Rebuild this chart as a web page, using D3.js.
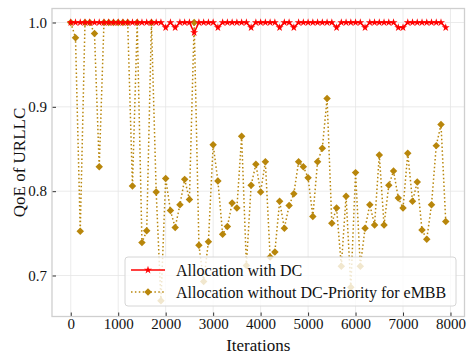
<!DOCTYPE html>
<html>
<head>
<meta charset="utf-8">
<script src="https://cdn.jsdelivr.net/npm/d3@7"></script>
<style>
  body { margin: 0; background: #fff; }
  svg text { font-family: "Liberation Serif", "Times New Roman", Times, "DejaVu Serif", serif !important; fill: #111; }
</style>
</head>
<body>
<svg id="chart" width="474" height="363" font-family="Liberation Serif"></svg>
<script>
var iterations = [0, 100, 200, 300, 400, 500, 600, 700, 800, 900,
  1000, 1100, 1200, 1300, 1400, 1500, 1600, 1700, 1800, 1900,
  2000, 2100, 2200, 2300, 2400, 2500, 2600, 2700, 2800, 2900,
  3000, 3100, 3200, 3300, 3400, 3500, 3600, 3700, 3800, 3900,
  4000, 4100, 4200, 4300, 4400, 4500, 4600, 4700, 4800, 4900,
  5000, 5100, 5200, 5300, 5400, 5500, 5600, 5700, 5800, 5900,
  6000, 6100, 6200, 6300, 6400, 6500, 6600, 6700, 6800, 6900,
  7000, 7100, 7200, 7300, 7400, 7500, 7600, 7700, 7800, 7900]

// allocation with DC
var qoe_dc = [1, 1, 1, 1, 1, 1, 1, 1, 1, 1,
  1, 1, 1, 1, 1, 1, 1, 1, 1, 1,
  0.994, 1, 0.994, 1, 1, 1, 0.988, 1, 1, 1,
  1, 0.994, 1, 1, 1, 1, 1, 1, 0.994, 1,
  1, 1, 1, 1, 0.994, 1, 1, 0.994, 1, 1,
  1, 1, 1, 1, 1, 1, 0.994, 1, 1, 1,
  1, 1, 0.994, 1, 1, 1, 1, 1, 1, 0.994,
  0.994, 1, 1, 1, 1, 1, 1, 1, 1, 0.994]

// allocation without DC - priority for eMBB
var qoe_no_dc = [1, 0.982, 0.7525, 1, 1, 0.987, 0.829, 1, 1, 1,
  1, 1, 1, 0.806, 1, 0.739, 0.753, 1, 0.799, 0.670,
  0.815, 0.777, 0.757, 0.784, 0.814, 0.790, 1, 0.736, 0.693, 0.740,
  0.855, 0.812, 0.749, 0.758, 0.786, 0.780, 0.865, 0.712, 0.807, 0.832,
  0.799, 0.835, 0.722, 0.728, 0.788, 0.756, 0.783, 0.797, 0.835, 0.829,
  0.816, 0.770, 0.835, 0.851, 0.910, 0.762, 0.780, 0.711, 0.794, 0.686,
  0.822, 0.711, 0.756, 0.784, 0.760, 0.843, 0.760, 0.807, 0.824, 0.792,
  0.780, 0.845, 0.788, 0.811, 0.754, 0.743, 0.784, 0.854, 0.879, 0.764]

var x_ticks = [0, 1000, 2000, 3000, 4000, 5000, 6000, 7000, 8000]
var y_ticks = [0.7, 0.8, 0.9, 1.0]
var series_names = ["Allocation with DC", "Allocation without DC-Priority for eMBB"]

var red = "#ff0000", gold = "#b8860b";
var pL = 52, pR = 464.5, pT = 8.5, pB = 316.5;
var serif = '"Liberation Serif", "Times New Roman", Times, serif';

var svg = d3.select("#chart");

var x = d3.scaleLinear().domain([-395, 8295]).range([pL, pR]);
var y = d3.scaleLinear().domain([0.6514, 1.0166]).range([pB, pT]);

// grid
svg.append("g").selectAll("line")
  .data(x_ticks).enter().append("line")
  .attr("x1", d => x(d)).attr("x2", d => x(d))
  .attr("y1", pT).attr("y2", pB)
  .attr("stroke", "#e6e6e6").attr("stroke-width", 0.8);
svg.append("g").selectAll("line")
  .data(y_ticks).enter().append("line")
  .attr("x1", pL).attr("x2", pR)
  .attr("y1", d => y(d)).attr("y2", d => y(d))
  .attr("stroke", "#e6e6e6").attr("stroke-width", 0.8);

// axes with inward ticks
var xAxis = svg.append("g")
  .attr("transform", "translate(0," + pB + ")")
  .call(d3.axisBottom(x).tickValues(x_ticks).tickSize(-4).tickPadding(2).tickFormat(d3.format("d")));
var yAxis = svg.append("g")
  .attr("transform", "translate(" + pL + ",0)")
  .call(d3.axisLeft(y).tickValues(y_ticks).tickSize(-4).tickPadding(5).tickFormat(d3.format(".1f")));
[xAxis, yAxis].forEach(function(a) {
  a.attr("font-family", serif).attr("font-size", 15);
  a.select(".domain").remove();
  a.selectAll(".tick line").attr("stroke", "#333").attr("stroke-width", 1);
  a.selectAll(".tick text").attr("fill", "#111");
});

// series
var pts_dc = iterations.map((d, i) => [d, qoe_dc[i]]);
var pts_no = iterations.map((d, i) => [d, qoe_no_dc[i]]);
var line = d3.line().x(d => x(d[0])).y(d => y(d[1]));

svg.append("path").datum(pts_no)
  .attr("d", line).attr("fill", "none")
  .attr("stroke", gold).attr("stroke-width", 1.5)
  .attr("stroke-dasharray", "1.5,2.4");
svg.append("g").selectAll("path")
  .data(pts_no).enter().append("path")
  .attr("d", d3.symbol().type(d3.symbolSquare).size(28))
  .attr("transform", d => "translate(" + x(d[0]) + "," + y(d[1]) + ") rotate(45)")
  .attr("fill", gold);

svg.append("path").datum(pts_dc)
  .attr("d", line).attr("fill", "none")
  .attr("stroke", red).attr("stroke-width", 1.5);
svg.append("g").selectAll("path")
  .data(pts_dc).enter().append("path")
  .attr("d", d3.symbol().type(d3.symbolStar).size(20))
  .attr("transform", d => "translate(" + x(d[0]) + "," + y(d[1]) + ")")
  .attr("fill", red);

// frame
svg.append("rect")
  .attr("x", pL).attr("y", pT)
  .attr("width", pR - pL).attr("height", pB - pT)
  .attr("fill", "none").attr("stroke", "#cfcfcf").attr("stroke-width", 1.3);

// legend
var lg = svg.append("g");
lg.append("rect")
  .attr("x", 125).attr("y", 257).attr("width", 331).attr("height", 49)
  .attr("rx", 3).attr("fill", "#fff").attr("fill-opacity", 0.8)
  .attr("stroke", "#d6d6d6").attr("stroke-width", 1);
var rows = [270, 292];
lg.append("line").attr("x1", 131).attr("x2", 165).attr("y1", rows[0]).attr("y2", rows[0])
  .attr("stroke", red).attr("stroke-width", 1.5);
lg.append("path").attr("d", d3.symbol().type(d3.symbolStar).size(20)())
  .attr("transform", "translate(148," + rows[0] + ")").attr("fill", red);
lg.append("line").attr("x1", 131).attr("x2", 165).attr("y1", rows[1]).attr("y2", rows[1])
  .attr("stroke", gold).attr("stroke-width", 1.5).attr("stroke-dasharray", "1.5,2.4");
lg.append("path").attr("d", d3.symbol().type(d3.symbolSquare).size(28)())
  .attr("transform", "translate(148," + rows[1] + ") rotate(45)").attr("fill", gold);
lg.selectAll("text.lab").data(series_names).enter().append("text")
  .attr("class", "lab")
  .attr("x", 176).attr("y", (d, i) => rows[i])
  .attr("dy", "0.35em").attr("font-family", serif).attr("font-size", 16)
  .text(d => d);

// axis titles
svg.append("text")
  .attr("x", (pL + pR) / 2).attr("y", 351)
  .attr("text-anchor", "middle").attr("font-family", serif).attr("font-size", 17)
  .text("Iterations");
svg.append("text")
  .attr("transform", "translate(19," + ((pT + pB) / 2) + ") rotate(-90)")
  .attr("text-anchor", "middle").attr("dy", "0.35em")
  .attr("font-family", serif).attr("font-size", 17)
  .text("QoE of URLLC");
</script>
</body>
</html>
